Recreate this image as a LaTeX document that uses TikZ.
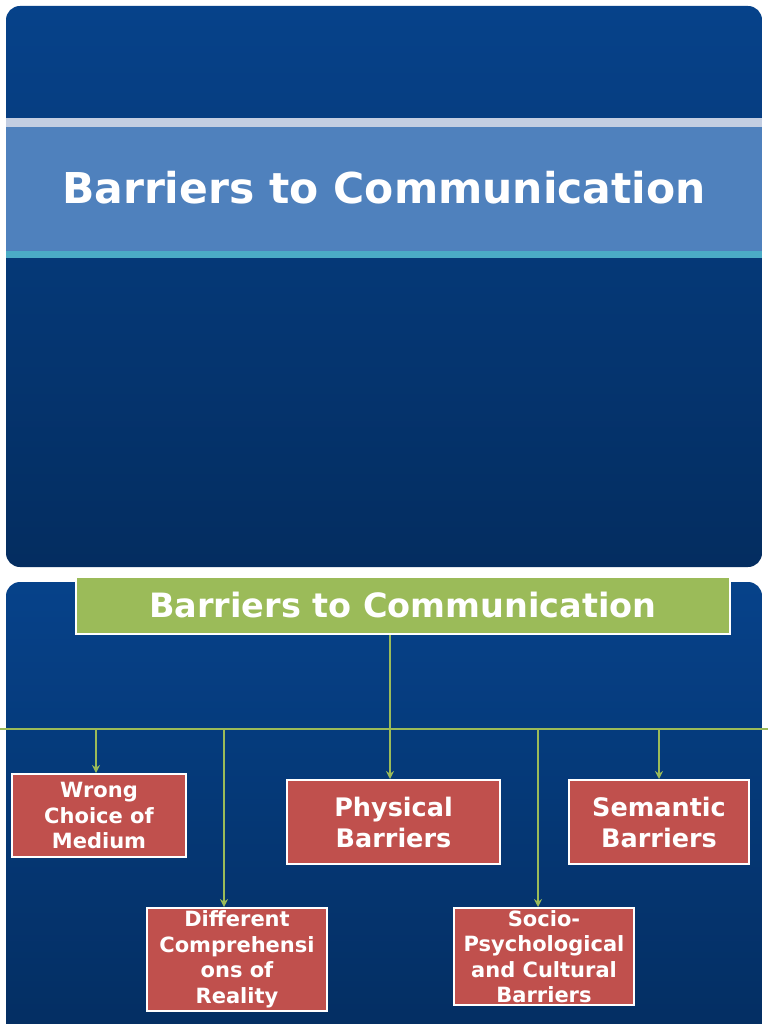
\documentclass[tikz,border=0pt]{standalone}
\usepackage{fontspec}
\setmainfont{DejaVu Sans}
\usetikzlibrary{arrows.meta}
\definecolor{topblue}{HTML}{06428A}
\definecolor{botblue}{HTML}{042D60}
\definecolor{band}{HTML}{4F81BD}
\definecolor{bandtop}{HTML}{C3CEE2}
\definecolor{cyanl}{HTML}{4BACC6}
\definecolor{grn}{HTML}{9BBB59}
\definecolor{redb}{HTML}{C0504D}
\tikzset{
 panel/.style={rounded corners=14pt,top color=topblue,bottom color=botblue,draw=none},
 redbox/.style={draw=white,line width=2pt,fill=redb,text=white,font=\bfseries\fontsize{21}{25.5}\selectfont,align=center,inner sep=0pt},
 bigred/.style={redbox,font=\bfseries\fontsize{25.5}{31}\selectfont},
 conn/.style={draw=grn,line width=2.5pt,-{Stealth[length=8pt,width=8pt]}},
 line/.style={draw=grn,line width=2.5pt}
}
\begin{document}
\begin{tikzpicture}[x=1pt,y=-1pt]
\useasboundingbox (0,0) rectangle (768,1024);
\fill[white] (0,0) rectangle (768,1024);
\path[panel] (6,6) rectangle (762,567);
\fill[bandtop] (6,118) rectangle (762,127);
\fill[band] (6,127) rectangle (762,251);
\fill[cyanl] (6,251) rectangle (762,258);
\node[text=white,font=\bfseries\fontsize{42.5}{48}\selectfont] (t1) at (384,188) {Barriers to Communication};
\begin{scope}
\clip (0,0) rectangle (768,1024);
\path[panel] (6,582) rectangle (762,1060);
\end{scope}
\node[draw=white,line width=2pt,fill=grn,text=white,font=\bfseries\fontsize{33.5}{38}\selectfont,minimum width=654pt,minimum height=57pt,inner sep=0pt] (t2) at (403,605.5) {Barriers to Communication};
\coordinate (hl) at (0,729);
\coordinate (hr) at (768,729);
\coordinate (j) at (390,729);
\draw[line] (hl) -- (hr);
\node[redbox,minimum width=174pt,minimum height=83pt] (b1) at (99,815.5) {Wrong\\Choice of\\Medium};
\node[redbox,minimum width=180pt,minimum height=103pt] (b2) at (237,959.5) {Different\\Comprehensi\\ons of\\Reality};
\node[bigred,minimum width=213pt,minimum height=84pt] (b3) at (393.5,822) {Physical\\Barriers};
\node[redbox,minimum width=180pt,minimum height=97pt] (b4) at (544,956.5) {Socio-\\Psychological\\and Cultural\\Barriers};
\node[bigred,minimum width=180pt,minimum height=84pt] (b5) at (659,822) {Semantic\\Barriers};
\draw[line] (t2.south -| j) -- (j);
\draw[conn] (96,729) -- (b1.north -| 96,0);
\draw[conn] (224,729) -- (b2.north -| 224,0);
\draw[conn] (j) -- (b3.north -| j);
\draw[conn] (538,729) -- (b4.north -| 538,0);
\draw[conn] (659,729) -- (b5.north);
\end{tikzpicture}
\end{document}
